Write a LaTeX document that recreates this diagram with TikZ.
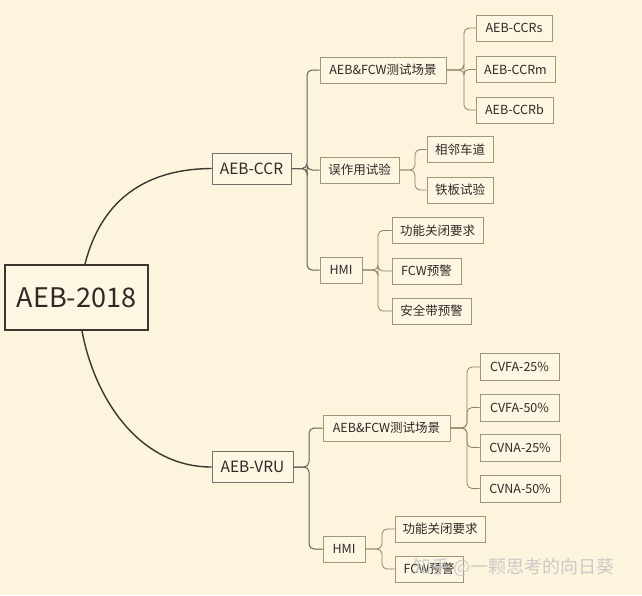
\documentclass[tikz,border=0pt]{standalone}
\usepackage{fontspec}
\setmainfont{Noto Sans CJK SC}
\usetikzlibrary{calc}
\definecolor{bg}{HTML}{FCF4DC}
\definecolor{boxfill}{HTML}{FDF6E2}
\definecolor{boxline}{HTML}{A39678}
\definecolor{darkline}{HTML}{3A3630}
\definecolor{elbow}{HTML}{8E826A}
\definecolor{txt}{HTML}{2E2B27}
\begin{document}
\begin{tikzpicture}[x=1pt,y=-1pt,
  box/.style={draw=boxline, fill=boxfill, line width=0.8pt, text=txt, font=\fontsize{12.5}{14}\selectfont, inner xsep=4pt, minimum height=26pt, anchor=center},
  mainbox/.style={draw=darkline!70, fill=boxfill, line width=0.9pt, text=txt, font=\fontsize{15.5}{17}\selectfont, inner xsep=4pt, minimum height=31pt},
  rootbox/.style={draw=darkline, fill=boxfill, line width=1.3pt, text=txt, font=\fontsize{27}{30}\selectfont, minimum width=143pt, minimum height=65pt},
  curve/.style={draw=darkline, line width=1.4pt},
  link/.style={draw=elbow, line width=0.8pt, rounded corners=5pt},
  mainlink/.style={draw=darkline!80, line width=1pt, rounded corners=5pt}
]
\fill[bg] (0,0) rectangle (642,595);
\useasboundingbox (0,0) rectangle (642,595);

% root
\node[rootbox] (root) at (76.5,297.5) {AEB-2018};
\coordinate (rt) at (85,264);
\coordinate (rb) at (82,331);

% level 1
\node[mainbox, minimum width=79pt] (ccr) at (251.5,168.5) {AEB-CCR};
\node[mainbox, minimum width=81pt] (vru) at (252.5,467) {AEB-VRU};

\draw[curve] (rt) .. controls (100,205) and (140,169) .. (ccr.west);
\draw[curve] (rb) .. controls (95,400) and (140,467) .. (vru.west);

% CCR children
\node[box, minimum width=126pt] (c1) at (383,70) {AEB\&FCW测试场景};
\node[box, minimum width=79pt] (c2) at (359.5,170) {误作用试验};
\node[box, minimum width=42pt] (c3) at (341,270) {HMI};

\coordinate (t1) at (307,0);
\foreach \c in {c1,c2,c3} \draw[mainlink] (ccr.east) -- (ccr.east -| t1) |- (\c.west);

% AEB&FCW children
\node[box, minimum width=76pt] (s1) at (514,28) {AEB-CCRs};
\node[box, minimum width=79pt] (s2) at (515.5,69.5) {AEB-CCRm};
\node[box, minimum width=77pt] (s3) at (514.5,110) {AEB-CCRb};
\coordinate (t2) at (464,0);
\foreach \c in {s1,s2,s3} \draw[link] (c1.east) -- (c1.east -| t2) |- (\c.west);

% 误作用试验 children
\node[box, minimum width=66pt] (m1) at (460,149.5) {相邻车道};
\node[box, minimum width=66pt] (m2) at (460,190) {铁板试验};
\coordinate (t3) at (415,0);
\foreach \c in {m1,m2} \draw[link] (c2.east) -- (c2.east -| t3) |- (\c.west);

% HMI children
\node[box, minimum width=91pt] (h1) at (437.5,230.5) {功能关闭要求};
\node[box, minimum width=69pt] (h2) at (426.5,271) {FCW预警};
\node[box, minimum width=79pt] (h3) at (431.5,311) {安全带预警};
\coordinate (t4) at (378,0);
\foreach \c in {h1,h2,h3} \draw[link] (c3.east) -- (c3.east -| t4) |- (\c.west);

% VRU children
\node[box, minimum width=127pt] (v1) at (386.5,428) {AEB\&FCW测试场景};
\node[box, minimum width=42pt] (v2) at (344,549) {HMI};
\coordinate (t5) at (309,0);
\foreach \c in {v1,v2} \draw[mainlink] (vru.east) -- (vru.east -| t5) |- (\c.west);

% VRU scenario children
\node[box, minimum width=79pt, minimum height=27pt] (w1) at (519.5,367) {CVFA-25\%};
\node[box, minimum width=79pt, minimum height=27pt] (w2) at (519.5,407.5) {CVFA-50\%};
\node[box, minimum width=80pt, minimum height=27pt] (w3) at (520,447.5) {CVNA-25\%};
\node[box, minimum width=80pt, minimum height=27pt] (w4) at (520,488.5) {CVNA-50\%};
\coordinate (t6) at (467,0);
\foreach \c in {w1,w2,w3,w4} \draw[link] (v1.east) -- (v1.east -| t6) |- (\c.west);

% VRU HMI children
\node[box, minimum width=90pt] (x1) at (440,529) {功能关闭要求};
\node[box, minimum width=68pt] (x2) at (429,569) {FCW预警};
\coordinate (t7) at (382,0);
\foreach \c in {x1,x2} \draw[link] (v2.east) -- (v2.east -| t7) |- (\c.west);

% watermark
\node[text=gray!45, opacity=0.9, font=\fontsize{18}{20}\selectfont, anchor=west] (wm) at (410,567) {知乎 @一颗思考的向日葵};
\end{tikzpicture}
\end{document}
